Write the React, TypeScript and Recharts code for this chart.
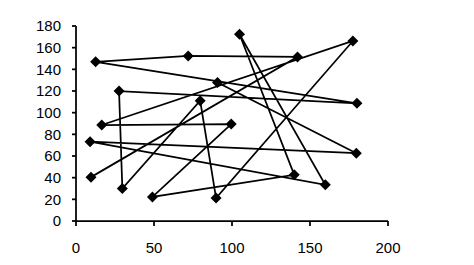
import { ScatterChart, Scatter, XAxis, YAxis } from "recharts"

// points in the order the line visits them
const xValues = [9.6, 142, 71.9, 12.6, 180.1, 27.6, 29.7, 79.6, 89.8, 177.5, 16.5, 99.5, 49, 139.9, 104.8, 159.8, 9, 179.7, 90.7]
const yValues = [40.5, 151.5, 152.4, 146.9, 108.6, 119.9, 30, 111, 21.2, 166.2, 88.6, 89.5, 22.2, 42.6, 172.4, 33.4, 73.2, 62.6, 127.9]
const xTicks = [0, 50, 100, 150, 200]
const yTicks = [0, 20, 40, 60, 80, 100, 120, 140, 160, 180]

const data = xValues.map((x, i) => ({ x, y: yValues[i] }))

const tickStyle = { fill: "#000", fontSize: 15, fontFamily: "'Liberation Sans', Arial, sans-serif" }

function Diamond(props: any) {
  const { cx, cy } = props
  const r = 5.5
  return (
    <polygon
      points={`${cx},${cy - r} ${cx + r},${cy} ${cx},${cy + r} ${cx - r},${cy}`}
      fill="#000"
    />
  )
}

export default function App() {
  return (
    <div style={{ position: "absolute", left: 0, top: 0, background: "#fff" }}>
      <ScatterChart width={474} height={265} margin={{ top: 26, right: 86, bottom: 14, left: 0 }}>
        <XAxis
          type="number"
          dataKey="x"
          domain={[0, 200]}
          ticks={xTicks}
          interval={0}
          tickSize={5}
          tickMargin={16}
          height={30}
          tick={tickStyle}
          axisLine={{ stroke: "#000", strokeWidth: 1.75 }}
          tickLine={{ stroke: "#000", strokeWidth: 1.75 }}
        />
        <YAxis
          type="number"
          dataKey="y"
          domain={[0, 180]}
          ticks={yTicks}
          interval={0}
          tickSize={4}
          tickMargin={11}
          width={76}
          tick={tickStyle}
          axisLine={{ stroke: "#000", strokeWidth: 1.75 }}
          tickLine={{ stroke: "#000", strokeWidth: 1.75 }}
        />
        <Scatter
          data={data}
          line={{ stroke: "#000", strokeWidth: 1.75 }}
          lineType="joint"
          shape={<Diamond />}
          isAnimationActive={false}
        />
      </ScatterChart>
    </div>
  )
}
